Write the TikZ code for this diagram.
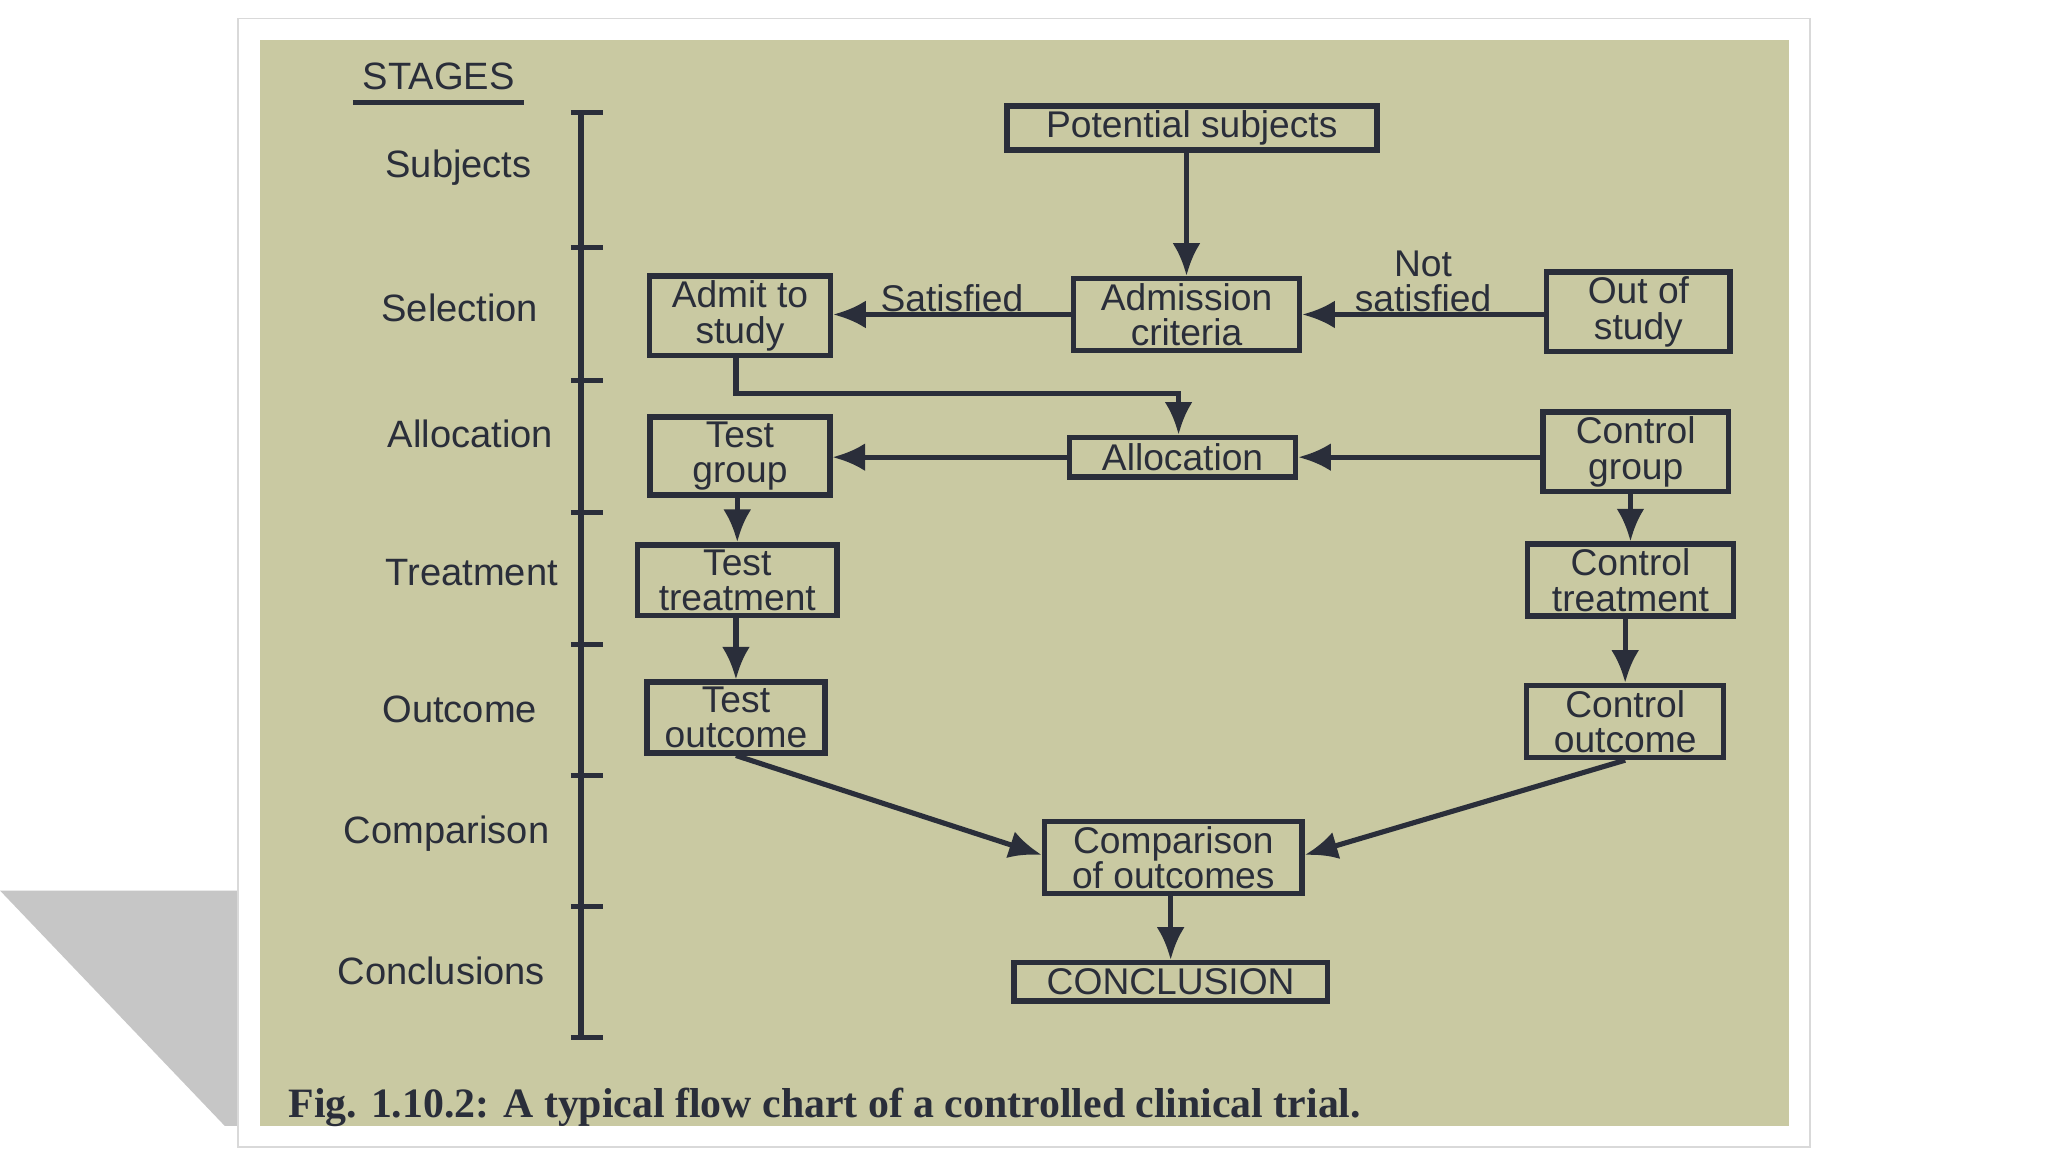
\documentclass[tikz,border=0pt]{standalone}
\usepackage{fontspec}
\setmainfont{Liberation Sans}
\newfontfamily\capfont{Liberation Serif}
\usetikzlibrary{arrows.meta,calc}
\definecolor{paper}{HTML}{C9C9A2}
\definecolor{ink}{HTML}{2A2E3A}
\tikzset{
  box/.style={draw=ink,line width=1.2pt,fill=paper,text=ink,align=center,inner sep=1pt,font=\fontsize{8}{7.6}\selectfont},
  arr/.style={draw=ink,line width=1.1pt,-{Latex[length=7pt,width=6pt]}},
  stage/.style={text=ink,font=\fontsize{8.2}{9}\selectfont},
  lbl/.style={text=ink,font=\fontsize{8}{7.6}\selectfont,align=center,inner sep=1pt}
}
\begin{document}
\begin{tikzpicture}[x=0.01cm,y=-0.01cm]
\useasboundingbox (0,0) rectangle (1550,872);
\fill[white] (0,0) rectangle (1550,872);
\fill[gray!45] (0,674) -- (181,674) -- (181,852) -- (170,852) -- cycle;
\draw[gray!30,fill=white] (180,14) rectangle (1370,868);
\fill[paper] (197,30) rectangle (1354,852);
% stages
\node[stage] (st) at (332,58) {STAGES};
\draw[ink,line width=0.9pt] ($(st.south west)+(5,-3)$) -- ($(st.south east)+(-5,-3)$);
\coordinate (ax1) at (440,85); \coordinate (ax2) at (440,785);
\draw[ink,line width=1.3pt] (ax1) -- (ax2);
\foreach \y in {85,187,288,388,488,587,686,785}
  \draw[ink,line width=1.1pt] (432,\y) -- (456,\y);
\node[stage] (s1) at (347,127) {Subjects};
\node[stage] (s2) at (348,233) {Selection};
\node[stage] (s3) at (356,328) {Allocation};
\node[stage] (s4) at (357,433) {Treatment};
\node[stage] (s5) at (348,537) {Outcome};
\node[stage] (s6) at (338,631) {Comparison};
\node[stage] (s7) at (334,735) {Conclusions};
% nodes
\node[box,minimum width=2.80cm,minimum height=0.32cm] (ps) at (902,97) {Potential subjects};
\node[box,minimum width=1.37cm,minimum height=0.52cm] (ad) at (560,239) {Admit to\\study};
\node[box,minimum width=1.71cm,minimum height=0.52cm] (ac) at (898,238) {Admission\\criteria};
\node[box,minimum width=1.39cm,minimum height=0.52cm] (os) at (1240,236) {Out of\\study};
\node[box,minimum width=1.36cm,minimum height=0.51cm] (tg) at (560,345) {Test\\group};
\node[box,minimum width=1.71cm,minimum height=0.30cm] (al) at (895,346) {Allocation};
\node[box,minimum width=1.40cm,minimum height=0.52cm] (cg) at (1238,342) {Control\\group};
\node[box,minimum width=1.51cm,minimum height=0.50cm] (tt) at (558,439) {Test\\treatment};
\node[box,minimum width=1.56cm,minimum height=0.50cm] (ct) at (1234,439) {Control\\treatment};
\node[box,minimum width=1.35cm,minimum height=0.50cm] (to) at (557,543) {Test\\outcome};
\node[box,minimum width=1.49cm,minimum height=0.52cm] (co) at (1230,546) {Control\\outcome};
\node[box,minimum width=1.95cm,minimum height=0.50cm] (cp) at (888,649) {Comparison\\of outcomes};
\node[box,minimum width=2.37cm,minimum height=0.29cm] (cn) at (886,743) {CONCLUSION};
% edges
\draw[arr] (ps.south -| ac.north) -- (ac.north);
\draw[arr] (ac.west) -- node[lbl,above=-1pt] (sat) {Satisfied} (ad.east |- ac.west);
\draw[arr] (os.west |- ac.east) -- node[lbl,above=-1pt] (ns) {Not\\satisfied} (ac.east);
\coordinate (k1) at (557,298);
\draw[arr] (ad.south -| k1) -- (k1) -| ([xshift=-0.03cm]al.north);
\draw[arr] (al.west) -- (tg.east |- al.west);
\draw[arr] (cg.west |- al.east) -- (al.east);
\draw[arr] (tg.south -| tt.north) -- (tt.north);
\draw[arr] (cg.south -| ct.north) -- (ct.north);
\draw[arr] (tt.south -| to.north) -- (to.north);
\draw[arr] (ct.south -| co.north) -- (co.north);
\draw[arr] (to.south) -- ([yshift=0.02cm]cp.west);
\draw[arr] (co.south) -- ([yshift=0.02cm]cp.east);
\draw[arr] (cp.south -| cn.north) -- (cn.north);
\node[anchor=west,text=ink,font=\capfont\bfseries\fontsize{9}{9}\selectfont] (cap) at (206,838) {Fig. 1.10.2: A typical flow chart of a controlled clinical trial.};
\end{tikzpicture}
\end{document}
